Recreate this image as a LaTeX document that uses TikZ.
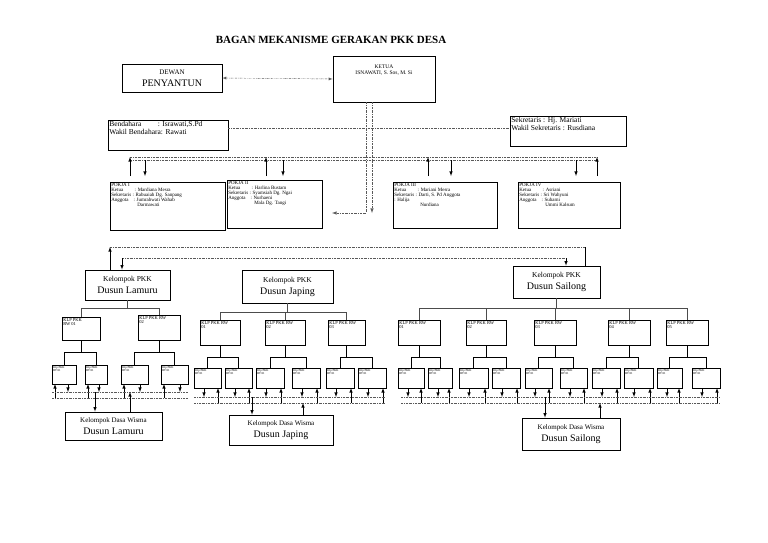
\documentclass[tikz,border=0pt]{standalone}
\usepackage{fontspec}
\setmainfont{Liberation Serif}
\begin{document}
\begin{tikzpicture}[x=1pt,y=-1pt,
  box/.style={draw,line width=0.8pt,inner sep=0pt,align=center},
  txt/.style={inner sep=1.5pt,align=left,anchor=north west,font=\fontsize{#1}{#1}\selectfont},
  dd/.style={line width=0.4pt,gray!70!black,dash pattern=on 2pt off 1pt on 0.5pt off 1pt},
  ln/.style={line width=0.6pt,gray!60!black},
  ar/.style={-latex,line width=0.6pt}]
\useasboundingbox (0,0) rectangle (768,543);
\newcommand\bx[6]{\node[box,minimum width={(#4-#2)*1pt},minimum height={(#5-#3)*1pt}] (#1) at ({(#2+#4)/2},{(#3+#5)/2}) {#6};}
\node[font=\bfseries\fontsize{11}{12}\selectfont] (title) at (331,40) {BAGAN MEKANISME GERAKAN PKK DESA};
% top
\bx{dewan}{122}{64}{222}{92}{\fontsize{7}{8}\selectfont DEWAN\\PENYANTUN}
\bx{ketua}{333}{56}{435}{102}{}
\node[font=\fontsize{5.5}{6.5}\selectfont,align=center] (ketuat) at (384,70) {KETUA\\ISNAWATI, S. Sos, M. Si};
\draw[dd,latex-latex] (dewan.east) -- (ketua.west);
\bx{bend}{108}{120}{228}{150}{}
\node[txt=7.5] (bendt) at (bend.north west) {Bendahara\hspace{2.2em}: Israwati,S.Pd\\Wakil Bendahara: Rawati};
\bx{sek}{510}{116}{626}{146}{}
\node[txt=7.5] (sekt) at (sek.north west) {Sekretaris : Hj. Mariati\\Wakil Sekretaris : Rusdiana};
\draw[dd] (bend.east |- 0,128) -- (sek.west |- 0,128);
\coordinate (kd1) at (366,213); \coordinate (kd2) at (372,213); \coordinate (kl) at (332,213);
\draw[dd] (ketua.south -| kd1) -- (kd1);
\draw[dd,ar] (kd1) -- (kl);
\draw[dd,ar] (ketua.south -| kd2) -- (kd2);
% pokja
\bx{p1}{110}{182}{225}{230}{}
\bx{p2}{227}{180}{322}{228}{}
\bx{p3}{393}{182}{497}{228}{}
\bx{p4}{518}{182}{620}{228}{}
\node[txt=5] (p1t) at (p1.north west) {POKJA I\\Ketua\hspace{2.3em}: Mardiana Mesra\\Sekretaris : Rabuaiah Dg. Sanpang\\Anggota\hspace{1em}: Jumrahwati Wahab\\\hspace{5.2em}Darmawati};
\node[txt=5] (p2t) at (p2.north west) {POKJA II\\Ketua\hspace{2.3em}: Harlina Bustam\\Sekretaris : Syamsiah Dg. Ngai\\Anggota\hspace{1em}: Nurhaeni\\\hspace{5.2em}Mala Dg. Tangi};
\node[txt=5] (p3t) at (p3.north west) {POKJA III\\Ketua\hspace{2.3em}: Mariani Mesra\\Sekretaris : Darti, S. Pd Anggota\\: Halija\\\hspace{5.2em}Nurdiana};
\node[txt=5] (p4t) at (p4.north west) {POKJA IV\\Ketua\hspace{2.3em}: Asriani\\Sekretaris : Sri Wahyuni\\Anggota\hspace{1em}: Suharni\\\hspace{5.2em}Ummi Kalsum};
\coordinate (pl1) at (130,157); \coordinate (pl2) at (597,157);
\draw[dd] (pl1) -- (pl2); \draw[dd] (130,160) -- (597,160);
\foreach \p/\u/\d in {p1/130/145,p2/266/283,p3/428/451,p4/597/576}{
  \draw[ar] (\u,176) -- (\u,157);
  \draw[ar] (\d,160) -- (\d,176);}
% dusun
\bx{lam}{85}{270}{170}{300}{\fontsize{7.5}{9}\selectfont Kelompok PKK\\Dusun Lamuru}
\bx{jap}{242}{270}{333}{303}{\fontsize{7.5}{9}\selectfont Kelompok PKK\\Dusun Japing}
\bx{sai}{513}{266}{600}{298}{\fontsize{7.5}{9}\selectfont Kelompok PKK\\Dusun Sailong}
\draw[dd] (110,247) -- (585,247);
\draw[dd] (122,258) -- (566,258);
\draw[ar] (lam.north -| 110,0) -- (110,247);
\draw[ar] (122,258) -- (lam.north -| 122,0);
\draw[ar] (566,258) -- (sai.north -| 566,0);
\draw[line width=0.6pt] (sai.north -| 585,0) -- (585,247);
% RW boxes
\newcommand\rw[6]{\bx{#1}{#2}{#3}{#4}{#5}{}\node[txt=4.5] (#1t) at (#1.north west) {#6};}
\rw{lw1}{62}{317}{100}{340}{KLP PKK\\RW 01}
\rw{lw2}{138}{315}{180}{340}{KLP PKK RW\\02}
\rw{jw1}{200}{320}{240}{345}{KLP PKK RW\\01}
\rw{jw2}{265}{320}{305}{345}{KLP PKK RW\\02}
\rw{jw3}{328}{320}{365}{345}{KLP PKK RW\\03}
\rw{sw1}{398}{320}{440}{345}{KLP PKK RW\\01}
\rw{sw2}{466}{320}{506}{345}{KLP PKK RW\\02}
\rw{sw3}{534}{320}{576}{345}{KLP PKK RW\\03}
\rw{sw4}{608}{320}{650}{345}{KLP PKK RW\\04}
\rw{sw5}{666}{320}{708}{345}{KLP PKK RW\\05}
\foreach \c in {lw1,lw2}{\draw[ln] (lam.south) -- ++(0,8) -| (\c.north);}
\foreach \c in {jw1,jw2,jw3}{\draw[ln] (jap.south) -- ++(0,9) -| (\c.north);}
\foreach \c in {sw1,sw2,sw3,sw4,sw5}{\draw[ln] (sai.south) -- ++(0,10) -| (\c.north);}
% RT boxes
\newcommand\rtbox[5]{\bx{#1}{#2}{#3}{#4}{#5}{}\node[txt=3] (#1t) at (#1.north west) {Klp PKK\\RT 0\ifodd\numexpr#2\relax1\else2\fi};}
\foreach \n/\a/\b/\p in {l1/52/76/lw1,l2/85/107/lw1,l3/121/148/lw2,l4/161/188/lw2}{
  \bx{\n}{\a}{365}{\b}{384}{}\node[txt=3] (\n t) at (\n.north west) {Klp PKK\\RT 01};
  \draw[ln,black] (\p.south) -- ++(0,12) -| (\n.north);
  \draw[ar] (\a+3,398) -- (\a+3,384);
  \draw[ar] (\b-8,384) -- (\b-8,392);}
\foreach \n/\a/\b/\p in {j1/194/221/jw1,j2/225/252/jw1,j3/256/284/jw2,j4/292/320/jw2,j5/326/354/jw3,j6/358/386/jw3}{
  \bx{\n}{\a}{368}{\b}{388}{}\node[txt=3] (\n t) at (\n.north west) {Klp PKK\\RT 01};
  \draw[ln,black] (\p.south) -- ++(0,12) -| (\n.north);
  \draw[ar] (\b-3,403) -- (\b-3,388);
  \draw[ar] (\a+10,388) -- (\a+10,397);}
\foreach \n/\a/\b/\p in {s1/398/424/sw1,s2/428/452/sw1,s3/459/488/sw2,s4/492/520/sw2,s5/525/552/sw3,s6/560/587/sw3,s7/592/620/sw4,s8/624/653/sw4,s9/657/682/sw5,s10/692/720/sw5}{
  \bx{\n}{\a}{368}{\b}{388}{}\node[txt=3] (\n t) at (\n.north west) {Klp PKK\\RT 01};
  \draw[ln,black] (\p.south) -- ++(0,12) -| (\n.north);
  \draw[ar] (\b-3,403) -- (\b-3,388);
  \draw[ar] (\a+10,388) -- (\a+10,397);}
\draw[dd] (52,392) -- (188,392); \draw[dd] (52,398) -- (188,398);
\draw[dd] (194,397) -- (386,397); \draw[dd] (194,403) -- (386,403);
\draw[dd] (401,397) -- (720,397); \draw[dd] (401,403) -- (720,403);
% dasa wisma
\bx{dl}{65}{412}{162}{440}{\fontsize{7}{8.5}\selectfont Kelompok Dasa Wisma\\Dusun Lamuru}
\bx{dj}{229}{415}{333}{445}{\fontsize{7}{8.5}\selectfont Kelompok Dasa Wisma\\Dusun Japing}
\bx{ds}{522}{418}{620}{450}{\fontsize{7}{8.5}\selectfont Kelompok Dasa Wisma\\Dusun Sailong}
\draw[ar] (95,392) -- (dl.north -| 95,0);
\draw[ar] (dl.north -| 130,0) -- (130,392);
\draw[ar] (252,397) -- (dj.north -| 252,0);
\draw[ar] (dj.north -| 303,0) -- (303,403);
\draw[ar] (545,397) -- (ds.north -| 545,0);
\draw[ar] (ds.north -| 600,0) -- (600,403);
\end{tikzpicture}
\end{document}
